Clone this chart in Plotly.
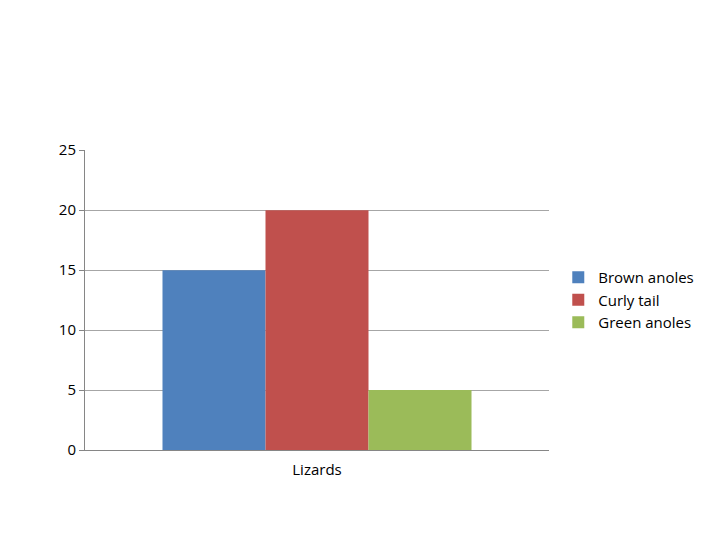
import plotly.graph_objects as go

category = ["Lizards"]
series = ["Brown anoles", "Curly tail", "Green anoles"]
values = [[15], [20], [5]]
colors = ["#4F81BD", "#C0504D", "#9BBB59"]

fig = go.Figure()
for name, v, c in zip(series, values, colors):
    fig.add_trace(go.Bar(x=category, y=v, name=name, marker_color=c, marker_line_width=0))

fig.update_layout(
    width=720, height=540,
    margin=dict(l=77, r=179, t=142, b=98, autoexpand=False),
    plot_bgcolor="white", paper_bgcolor="white",
    font=dict(family="Open Sans, Liberation Sans", size=15, color="black"),
    barmode="group", bargap=0.334, bargroupgap=0,
    legend=dict(x=1.02, y=0.5, yanchor="middle", xanchor="left",
                font=dict(size=15), itemwidth=30, tracegroupgap=8),
    showlegend=True,
)
fig.update_yaxes(range=[0, 25.02], dtick=5, showgrid=True, gridcolor="#A6A6A6",
                 gridwidth=1, showline=True, linecolor="#868686", automargin=False,
                 ticks="outside", ticklen=5, tickcolor="#868686", zeroline=False)
fig.update_xaxes(showline=True, linecolor="#868686", ticks="", showgrid=False,
                 automargin=False, ticklabelstandoff=6)
fig.write_html("out.html")
